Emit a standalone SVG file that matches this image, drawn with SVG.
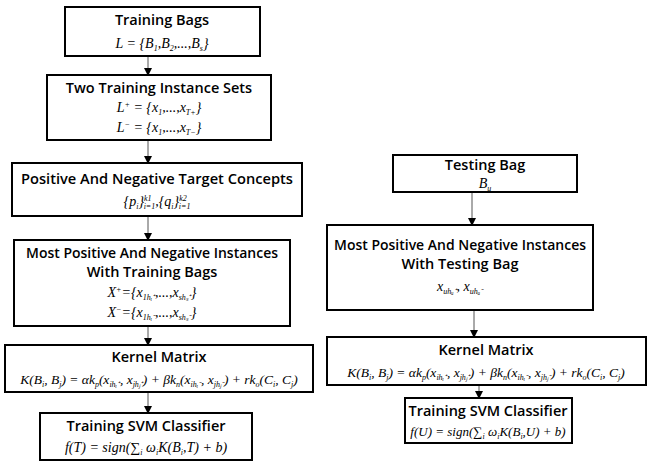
<svg xmlns="http://www.w3.org/2000/svg" width="650" height="473" viewBox="0 0 650 473">
<style>
.box{fill:#fff;stroke:#000;stroke-width:2}
.t{font-family:"Open Sans","Noto Sans",sans-serif;font-weight:600;font-size:14.5px;text-anchor:middle;fill:#000}
.m{font-family:"Liberation Serif",serif;font-style:italic;font-size:14px;text-anchor:middle;fill:#000}
.k{font-size:13.5px}
.q{font-size:13px}
.s{font-size:8px}
.c line{stroke:#555;stroke-width:1}
</style>
<defs><marker id="a" markerWidth="8" markerHeight="8" refX="7" refY="4" orient="auto" markerUnits="userSpaceOnUse"><path d="M0,0L8,4L0,8z" fill="#000"/></marker></defs>
<rect width="650" height="473" fill="#fff"/>
<g class="c">
<line x1="148" y1="56" x2="148" y2="75" marker-end="url(#a)"/>
<line x1="148" y1="140" x2="148" y2="163" marker-end="url(#a)"/>
<line x1="148" y1="216" x2="148" y2="240" marker-end="url(#a)"/>
<line x1="148" y1="326" x2="148" y2="345" marker-end="url(#a)"/>
<line x1="148" y1="392" x2="148" y2="413" marker-end="url(#a)"/>
<line x1="472" y1="192" x2="472" y2="225" marker-end="url(#a)"/>
<line x1="474" y1="310" x2="474" y2="337" marker-end="url(#a)"/>
<line x1="479" y1="385" x2="479" y2="398" marker-end="url(#a)"/>
</g>
<g id="n1"><rect class="box" x="65" y="7" width="195" height="49"/>
<text class="t" x="162" y="25">Training Bags</text>
<text class="m" x="162" y="48">L = {B<tspan class="s" dy="3">1</tspan><tspan dy="-3">,B</tspan><tspan class="s" dy="3">2</tspan><tspan dy="-3">,...,B</tspan><tspan class="s" dy="3">s</tspan><tspan dy="-3">}</tspan></text></g>
<g id="n2"><rect class="box" x="47" y="75" width="224" height="65"/>
<text class="t" x="159" y="93">Two Training Instance Sets</text>
<text class="m" x="159" y="112">L<tspan class="s" dy="-5">+</tspan><tspan dy="5"> = {x</tspan><tspan class="s" dy="3">1</tspan><tspan dy="-3">,...,x</tspan><tspan class="s" dy="3">T+</tspan><tspan dy="-3">}</tspan></text>
<text class="m" x="159" y="132">L<tspan class="s" dy="-5">−</tspan><tspan dy="5"> = {x</tspan><tspan class="s" dy="3">1</tspan><tspan dy="-3">,...,x</tspan><tspan class="s" dy="3">T−</tspan><tspan dy="-3">}</tspan></text></g>
<g id="n3"><rect class="box" x="12" y="163" width="290" height="53"/>
<text class="t" x="157" y="184" textLength="272" lengthAdjust="spacingAndGlyphs">Positive And Negative Target Concepts</text>
<text class="m" x="157" y="206">{p<tspan class="s" dy="3">i</tspan><tspan dy="-3">}</tspan><tspan class="s" dy="-5">k1</tspan><tspan class="s" dx="-8" dy="8">i=1</tspan><tspan dy="-3">,{q</tspan><tspan class="s" dy="3">i</tspan><tspan dy="-3">}</tspan><tspan class="s" dy="-5">k2</tspan><tspan class="s" dx="-8" dy="8">i=1</tspan></text></g>
<g id="n4"><rect class="box" x="14" y="240" width="276" height="86"/>
<text class="t" x="152" y="258" textLength="252" lengthAdjust="spacingAndGlyphs">Most Positive And Negative Instances</text>
<text class="t" x="152" y="277">With Training Bags</text>
<text class="m" x="152" y="297">X<tspan class="s" dy="-5">+</tspan><tspan dy="5">={x</tspan><tspan class="s" dy="3">1hᵢ⁺</tspan><tspan dy="-3">,...,x</tspan><tspan class="s" dy="3">shₛ⁺</tspan><tspan dy="-3">}</tspan></text>
<text class="m" x="152" y="317">X<tspan class="s" dy="-5">−</tspan><tspan dy="5">={x</tspan><tspan class="s" dy="3">1hᵢ⁻</tspan><tspan dy="-3">,...,x</tspan><tspan class="s" dy="3">shₛ⁻</tspan><tspan dy="-3">}</tspan></text></g>
<g id="n5"><rect class="box" x="5" y="345" width="308" height="47"/>
<text class="t" x="159" y="362">Kernel Matrix</text>
<text class="m k" x="159" y="384">K(B<tspan class="s" dy="3">i</tspan><tspan dy="-3">, B</tspan><tspan class="s" dy="3">j</tspan><tspan dy="-3">) = αk</tspan><tspan class="s" dy="3">p</tspan><tspan dy="-3">(x</tspan><tspan class="s" dy="3">ihᵢ⁺</tspan><tspan dy="-3">, x</tspan><tspan class="s" dy="3">jhⱼ⁺</tspan><tspan dy="-3">) + βk</tspan><tspan class="s" dy="3">n</tspan><tspan dy="-3">(x</tspan><tspan class="s" dy="3">ihᵢ⁻</tspan><tspan dy="-3">, x</tspan><tspan class="s" dy="3">jhⱼ⁻</tspan><tspan dy="-3">) + rk</tspan><tspan class="s" dy="3">o</tspan><tspan dy="-3">(C</tspan><tspan class="s" dy="3">i</tspan><tspan dy="-3">, C</tspan><tspan class="s" dy="3">j</tspan><tspan dy="-3">)</tspan></text></g>
<g id="n6"><rect class="box" x="40" y="413" width="212" height="47"/>
<text class="t" x="146" y="431">Training SVM Classifier</text>
<text class="m" x="146" y="452">f(T) = sign(∑<tspan class="s" dy="3">i</tspan><tspan dy="-3"> ω</tspan><tspan class="s" dy="3">i</tspan><tspan dy="-3">K(B</tspan><tspan class="s" dy="3">i</tspan><tspan dy="-3">,T) + b)</tspan></text></g>
<g id="r1"><rect class="box" x="393" y="155" width="184" height="37"/>
<text class="t" x="485" y="170">Testing Bag</text>
<text class="m" x="485" y="188">B<tspan class="s" dy="3">u</tspan></text></g>
<g id="r2"><rect class="box" x="327" y="225" width="266" height="85"/>
<text class="t" x="460" y="250" textLength="252" lengthAdjust="spacingAndGlyphs">Most Positive And Negative Instances</text>
<text class="t" x="460" y="269">With Testing Bag</text>
<text class="m" x="460" y="291">x<tspan class="s" dy="3">uhᵤ⁺</tspan><tspan dy="-3">, x</tspan><tspan class="s" dy="3">uhᵤ⁻</tspan></text></g>
<g id="r3"><rect class="box" x="327" y="337" width="319" height="48"/>
<text class="t" x="486" y="355">Kernel Matrix</text>
<text class="m k" x="486" y="377">K(B<tspan class="s" dy="3">i</tspan><tspan dy="-3">, B</tspan><tspan class="s" dy="3">j</tspan><tspan dy="-3">) = αk</tspan><tspan class="s" dy="3">p</tspan><tspan dy="-3">(x</tspan><tspan class="s" dy="3">ihᵢ⁺</tspan><tspan dy="-3">, x</tspan><tspan class="s" dy="3">jhⱼ⁺</tspan><tspan dy="-3">) + βk</tspan><tspan class="s" dy="3">n</tspan><tspan dy="-3">(x</tspan><tspan class="s" dy="3">ihᵢ⁻</tspan><tspan dy="-3">, x</tspan><tspan class="s" dy="3">jhⱼ⁻</tspan><tspan dy="-3">) + rk</tspan><tspan class="s" dy="3">o</tspan><tspan dy="-3">(C</tspan><tspan class="s" dy="3">i</tspan><tspan dy="-3">, C</tspan><tspan class="s" dy="3">j</tspan><tspan dy="-3">)</tspan></text></g>
<g id="r4"><rect class="box" x="405" y="398" width="167" height="45"/>
<text class="t" x="488" y="416">Training SVM Classifier</text>
<text class="m q" x="488" y="436">f(U) = sign(∑<tspan class="s" dy="3">i</tspan><tspan dy="-3"> ω</tspan><tspan class="s" dy="3">i</tspan><tspan dy="-3">K(B</tspan><tspan class="s" dy="3">i</tspan><tspan dy="-3">,U) + b)</tspan></text></g>
</svg>
